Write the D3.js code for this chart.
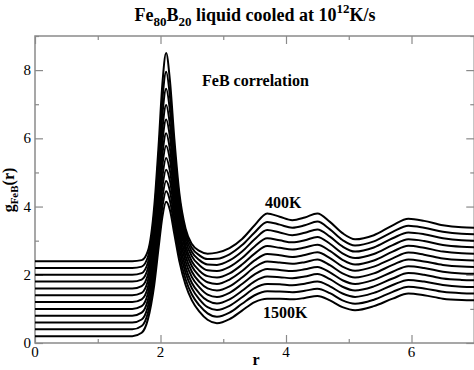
<!DOCTYPE html>
<html>
<head>
<meta charset="utf-8">
<script src="https://cdn.jsdelivr.net/npm/d3@7"></script>
<style>
  body { margin: 0; background: #fff; }
  svg text { font-family: "Liberation Serif", "Times New Roman", Times, serif; fill: #000; }
</style>
</head>
<body>
<div id="container"></div>
<script>
/* CONSTANTS */
const width = 474,
    height = 370,
    margin = { top: 36, bottom: 27, left: 35, right: 0 };
const serif = "'Liberation Serif', 'Times New Roman', Times, serif";

/* DATA: r grid and g_FeB(r) for each temperature (before offset) */
const rValues = [0, 1.55, 1.7, 1.8, 1.9, 1.97, 2.03, 2.09, 2.15, 2.22, 2.3, 2.4, 2.5, 2.62, 2.75, 2.9,
    3.1, 3.3, 3.5, 3.7, 3.9, 4.1, 4.3, 4.5, 4.7, 4.9, 5.1, 5.4, 5.7, 5.95, 6.2, 6.5, 6.8, 7.0];

const temperatures = [400, 500, 600, 700, 800, 900, 1000, 1100, 1200, 1300, 1400, 1500];
const offsets = [2.4, 2.2, 2.0, 1.8, 1.6, 1.4, 1.2, 1.0, 0.8, 0.6, 0.4, 0.2];

const g400  = [0,0,.03,.30,1.60,3.40,5.20,6.10,5.30,3.60,2.00,.95,.50,.30,.22,.25,.38,.65,1.05,1.40,1.30,1.20,1.28,1.40,1.15,.82,.64,.76,1.05,1.24,1.18,1.05,.99,.98];
const g500  = [0,0,.04,.33,1.58,3.27,4.93,5.75,5.04,3.50,2.03,1.04,.59,.37,.26,.27,.40,.67,1.04,1.35,1.27,1.18,1.25,1.36,1.13,.82,.66,.78,1.06,1.24,1.18,1.06,1.00,.99];
const g600  = [0,0,.05,.36,1.57,3.16,4.69,5.45,4.82,3.42,2.06,1.12,.67,.43,.30,.29,.42,.68,1.04,1.31,1.24,1.16,1.23,1.33,1.12,.83,.68,.80,1.07,1.24,1.19,1.07,1.01,1.00];
const g700  = [0,0,.06,.39,1.56,3.06,4.47,5.18,4.61,3.34,2.09,1.19,.74,.48,.33,.31,.43,.69,1.03,1.27,1.21,1.15,1.21,1.31,1.11,.83,.69,.81,1.07,1.24,1.19,1.07,1.02,1.01];
const g800  = [0,0,.07,.41,1.55,2.98,4.30,4.95,4.45,3.28,2.11,1.24,.79,.52,.36,.32,.44,.70,1.02,1.24,1.19,1.14,1.20,1.28,1.10,.84,.70,.82,1.08,1.25,1.19,1.08,1.03,1.02];
const g900  = [0,0,.07,.43,1.54,2.90,4.13,4.75,4.29,3.22,2.13,1.30,.85,.56,.38,.33,.46,.71,1.02,1.21,1.17,1.12,1.18,1.26,1.09,.84,.72,.84,1.08,1.25,1.19,1.08,1.03,1.02];
const g1000 = [0,0,.08,.44,1.53,2.84,4.01,4.58,4.18,3.18,2.14,1.34,.89,.59,.40,.34,.46,.72,1.02,1.19,1.16,1.12,1.17,1.25,1.08,.84,.72,.84,1.09,1.25,1.19,1.09,1.04,1.03];
const g1100 = [0,0,.08,.46,1.52,2.78,3.87,4.42,4.05,3.13,2.16,1.38,.93,.63,.42,.35,.47,.73,1.01,1.17,1.14,1.11,1.16,1.23,1.07,.84,.73,.85,1.09,1.25,1.20,1.09,1.04,1.03];
const g1200 = [0,0,.09,.47,1.52,2.73,3.77,4.28,3.96,3.10,2.17,1.41,.96,.65,.44,.36,.48,.73,1.01,1.15,1.13,1.10,1.15,1.22,1.07,.85,.74,.86,1.09,1.25,1.20,1.09,1.05,1.04];
const g1300 = [0,0,.09,.48,1.51,2.68,3.67,4.15,3.86,3.06,2.18,1.45,1.00,.68,.45,.37,.49,.74,1.01,1.13,1.12,1.09,1.14,1.20,1.06,.85,.75,.87,1.10,1.25,1.20,1.10,1.05,1.04];
const g1400 = [0,0,.10,.49,1.50,2.64,3.59,4.05,3.78,3.03,2.19,1.47,1.02,.70,.47,.37,.49,.75,1.00,1.12,1.11,1.09,1.13,1.19,1.06,.85,.75,.87,1.10,1.25,1.20,1.10,1.06,1.05];
const g1500 = [0,0,.10,.50,1.50,2.60,3.50,3.94,3.70,3.00,2.20,1.50,1.05,.72,.48,.38,.50,.75,1.00,1.10,1.10,1.08,1.12,1.18,1.05,.85,.76,.88,1.10,1.25,1.20,1.10,1.06,1.05];

const gSeries = [g400, g500, g600, g700, g800, g900, g1000, g1100, g1200, g1300, g1400, g1500];

const xMajorTicks = [0, 2, 4, 6];
const xMinorTicks = [1, 3, 5, 7];
const yMajorTicks = [0, 2, 4, 6, 8];
const yMinorTicks = [1, 3, 5, 7, 9];

/* SVG */
const svg = d3.select("#container")
    .append("svg")
    .attr("width", width)
    .attr("height", height)
    .attr("font-family", serif);

const xScale = d3.scaleLinear()
    .domain([0, 7])
    .range([margin.left, 474.25]);

const yScale = d3.scaleLinear()
    .domain([0, 9])
    .range([height - margin.bottom, margin.top]);

const axisColor = "#8a8a8a";

// frame
svg.append("rect")
    .attr("x", xScale(0))
    .attr("y", yScale(9))
    .attr("width", xScale(7) - xScale(0))
    .attr("height", yScale(0) - yScale(9))
    .attr("fill", "none")
    .attr("stroke", axisColor)
    .attr("stroke-width", 1.5);

// ticks (inward, on all four sides)
function tickAxis(axisFn, scale, values, size, transform) {
    svg.append("g")
        .attr("transform", transform)
        .call(axisFn(scale).tickValues(values).tickSize(size).tickFormat(""))
        .call(g => g.select(".domain").remove())
        .call(g => g.selectAll("line").attr("stroke", axisColor).attr("stroke-width", 1.2));
}
const x0 = yScale(0), xTop = yScale(9), yL = xScale(0), yR = xScale(7);
tickAxis(d3.axisTop, xScale, xMajorTicks, 8, `translate(0,${x0})`);
tickAxis(d3.axisTop, xScale, xMinorTicks, 4, `translate(0,${x0})`);
tickAxis(d3.axisBottom, xScale, xMajorTicks, 8, `translate(0,${xTop})`);
tickAxis(d3.axisBottom, xScale, xMinorTicks, 4, `translate(0,${xTop})`);
tickAxis(d3.axisRight, yScale, yMajorTicks, 8, `translate(${yL},0)`);
tickAxis(d3.axisRight, yScale, yMinorTicks, 4, `translate(${yL},0)`);
tickAxis(d3.axisLeft, yScale, yMajorTicks, 8, `translate(${yR},0)`);
tickAxis(d3.axisLeft, yScale, yMinorTicks, 4, `translate(${yR},0)`);

// tick labels
svg.selectAll("text.xtick")
    .data(xMajorTicks)
    .join("text")
    .attr("class", "xtick")
    .attr("x", d => xScale(d))
    .attr("y", x0 + 14)
    .attr("text-anchor", "middle")
    .attr("font-family", serif)
    .style("font-size", "15px")
    .text(d => d);

svg.selectAll("text.ytick")
    .data(yMajorTicks)
    .join("text")
    .attr("class", "ytick")
    .attr("x", yL - 4)
    .attr("y", d => yScale(d) + 5)
    .attr("text-anchor", "end")
    .attr("font-family", serif)
    .style("font-size", "15px")
    .text(d => d);

// curves
const lineGen = d3.line()
    .x(d => xScale(d[0]))
    .y(d => yScale(d[1]))
    .curve(d3.curveMonotoneX);

svg.selectAll("path.curve")
    .data(gSeries.map((g, i) => g.map((v, j) => [rValues[j], v + offsets[i]])))
    .join("path")
    .attr("class", "curve")
    .attr("fill", "none")
    .attr("stroke", "#000")
    .attr("stroke-width", 2)
    .attr("d", d => lineGen(d));

// title
const title = svg.append("text")
    .attr("x", 255)
    .attr("y", 21)
    .attr("text-anchor", "middle")
    .attr("font-family", serif)
    .style("font-size", "18px")
    .style("font-weight", "bold");
title.append("tspan").text("Fe");
title.append("tspan").attr("dy", 5).style("font-size", "13px").text("80");
title.append("tspan").attr("dy", -5).text("B");
title.append("tspan").attr("dy", 5).style("font-size", "13px").text("20");
title.append("tspan").attr("dy", -5).text(" liquid cooled at 10");
title.append("tspan").attr("dy", -8).style("font-size", "13px").text("12");
title.append("tspan").attr("dy", 8).text("K/s");

// annotations
svg.append("text")
    .attr("x", 202).attr("y", 86)
    .attr("font-family", serif)
    .style("font-size", "16px").style("font-weight", "bold")
    .text("FeB correlation");

svg.append("text")
    .attr("x", 265).attr("y", 208)
    .attr("font-family", serif)
    .style("font-size", "16px").style("font-weight", "bold")
    .text(`${temperatures[0]}K`);

svg.append("text")
    .attr("x", 263).attr("y", 318)
    .attr("font-family", serif)
    .style("font-size", "16px").style("font-weight", "bold")
    .text(`${temperatures[temperatures.length - 1]}K`);

// axis labels
svg.append("text")
    .attr("x", 256).attr("y", 365)
    .attr("text-anchor", "middle")
    .attr("font-family", serif)
    .style("font-size", "16px").style("font-weight", "bold")
    .text("r");

const ylab = svg.append("text")
    .attr("transform", `translate(14,${190}) rotate(-90)`)
    .attr("text-anchor", "middle")
    .attr("font-family", serif)
    .style("font-size", "16px").style("font-weight", "bold");
ylab.append("tspan").text("g");
ylab.append("tspan").attr("dy", 4).style("font-size", "11px").text("FeB");
ylab.append("tspan").attr("dy", -4).text("(r)");
</script>
</body>
</html>
